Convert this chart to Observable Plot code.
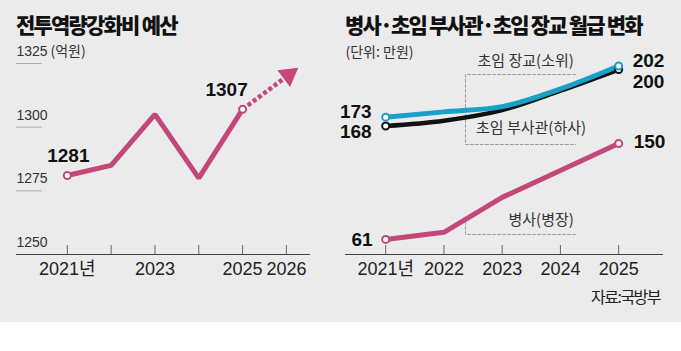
<!DOCTYPE html>
<html><head><meta charset="utf-8">
<script src="https://cdn.jsdelivr.net/npm/d3@7"></script>
<script src="https://cdn.jsdelivr.net/npm/@observablehq/plot@0.6"></script>
<style>
body{margin:0;background:#fff;}
#wrap{position:relative;width:681px;height:351px;background:#fff;overflow:hidden;}
#bg{position:absolute;left:0;top:0;width:681px;height:322px;background:#ebebeb;}
.title{position:absolute;top:9px;font-family:"Noto Sans CJK KR",sans-serif;font-weight:900;font-size:21px;letter-spacing:-1.8px;color:#111;white-space:nowrap;line-height:30px;}
.chart{position:absolute;top:40px;}
#src{position:absolute;left:591px;top:286px;font-family:"Noto Sans CJK KR",sans-serif;font-size:16px;letter-spacing:-1.5px;color:#222;line-height:20px;}
.chart svg text.num{letter-spacing:-1px;}
</style></head>
<body>
<div id="wrap">
<div id="bg"></div>
<div class="title" id="t1" style="left:16px">전투역량강화비 예산</div>
<div class="title" id="t2" style="left:345px">병사·초임 부사관·초임 장교 월급 변화</div>
<div class="chart" id="c1" style="left:0px"></div>
<div class="chart" id="c2" style="left:340px"></div>
<div id="src">자료:국방부</div>
</div>
<script>
// ---------- Left chart data ----------
const budgetYears = [2021, 2022, 2023, 2024, 2025];
const budgetValues = [1281, 1285, 1305, 1280, 1307];
const budgetAxisYears = [2021, 2022, 2023, 2024, 2025, 2026];
const budgetAxisLabels = ["2021년", "", "2023", "", "2025", "2026"];
const budgetYTicks = [1325, 1300, 1275, 1250];
const budgetUnit = "(억원)";
const arrowStart = [2025, 1307];
const arrowEnd = [2025.94, 1319.1];
const arrowHead = [2026.05, 1320.5];

// ---------- Right chart data ----------
const payYears = [2021, 2022, 2023, 2024, 2025];
const soldierPay = [61, 67.6, 100, 125, 150];
const sergeantPay = [168, 171, 177, 188, 200];
const lieutenantPay = [173, 176, 179, 189, 202];
const payUnit = "(단위: 만원)";
const payAxisLabels = ["2021년", "2022", "2023", "2024", "2025"];
const seriesNames = ["초임 장교(소위)", "초임 부사관(하사)", "병사(병장)"];
// broken (piecewise) value axis of the right chart: value breakpoints and their heights in px
const payBreaks = [47, 150, 168, 202];
const payBreakHeights = [0, 111, 128.5, 188.5];

const pink = "#c4477a", blue = "#18a0c8", black = "#111";
const numFont = '"Liberation Sans","Noto Sans CJK KR",sans-serif';
const krFont = '"Noto Sans CJK KR",sans-serif';

// ---------- Left chart ----------
const budget = budgetYears.map((year, i) => ({year, value: budgetValues[i]}));
const yL = {domain: [1250, 1325], range: [214, 23]};
const kL = (yL.range[0] - yL.range[1]) / (yL.domain[1] - yL.domain[0]);
const tickTopL = yL.domain[0] + 9 / kL;
const xLdom = [2019.84, 2026.55];

const left = Plot.plot({
  width: 340, height: 250,
  marginTop: 23, marginBottom: 36, marginLeft: 16, marginRight: 30,
  x: {domain: xLdom, axis: null},
  y: {...yL, axis: null},
  style: {background: "transparent", overflow: "visible", fontFamily: numFont},
  marks: [
    Plot.ruleY(budgetYTicks.filter(d => d !== 1250), {y: d => d, x1: xLdom[0], x2: 2020.43, stroke: "#9a9a9a", strokeWidth: 0.8}),
    Plot.text(budgetYTicks, {x: xLdom[0], y: d => d, text: d => String(d), textAnchor: "start", dy: -12, fontSize: 14, fill: "#333", className: "num"}),
    Plot.text([budgetUnit], {x: xLdom[0], y: 1325, text: d => d, textAnchor: "start", dx: 34, dy: -12, fontSize: 14, fill: "#333", fontFamily: krFont}),
    Plot.ruleY([1250], {stroke: "#444", strokeWidth: 1.2}),
    Plot.ruleX(budgetAxisYears, {x: d => d, y1: 1250, y2: tickTopL, stroke: "#666", strokeWidth: 1}),
    Plot.text(budgetAxisYears, {x: d => d, y: 1250, text: (d, i) => budgetAxisLabels[i], dy: 15, fontSize: 18, fill: "#222", className: "num"}),
    Plot.link([0], {x1: arrowStart[0], y1: arrowStart[1], x2: arrowEnd[0], y2: arrowEnd[1], stroke: pink, strokeWidth: 4.5, strokeDasharray: "4,2.5"}),
    Plot.dot([0], {x: arrowHead[0], y: arrowHead[1], symbol: "triangle", r: 7.8, fill: pink, stroke: "none", rotate: 53}),
    Plot.line(budget, {x: "year", y: "value", stroke: pink, strokeWidth: 5, strokeLinejoin: "miter"}),
    Plot.dot([budget[0], budget[4]], {x: "year", y: "value", r: 3.5, fill: "white", stroke: pink, strokeWidth: 2}),
    Plot.text([budget[0]], {x: "year", y: "value", text: d => String(d.value), dx: 1, dy: -20, fontSize: 19, fontWeight: "bold", fill: "#111", className: "num"}),
    Plot.text([budget[4]], {x: "year", y: "value", text: d => String(d.value), dx: -16, dy: -19, fontSize: 19, fontWeight: "bold", fill: "#111", className: "num"})
  ]
});
document.getElementById("c1").appendChild(left);

// ---------- Right chart ----------
const mk = (vals, name) => payYears.map((year, i) => ({year, value: vals[i], name}));
const soldier = mk(soldierPay, seriesNames[2]);
const sergeant = mk(sergeantPay, seriesNames[1]);
const lieutenant = mk(lieutenantPay, seriesNames[0]);
const ends = arr => [arr[0], arr[arr.length - 1]];
const pw = d3.scaleLinear().domain(payBreaks).range(payBreakHeights);
const tickTopR = pw.invert(9);

const bracketTop = [[2024.26, 197.2], [2022.37, 197.2], [2022.37, 149.1], [2024.26, 149.1]];
const bracketBottom = [[2022.37, 77.6], [2022.37, 65.6], [2024.26, 65.6]];
const annot = [
  {name: seriesNames[0], x: 2024.23, y: 204.5, anchor: "end"},
  {name: seriesNames[1], x: 2022.55, y: 165.4, anchor: "start"},
  {name: seriesNames[2], x: 2024.23, y: 78.5, anchor: "end"}
];
const valueLabels = [
  {d: lieutenant[0], dx: -14, dy: -5.5, anchor: "end"},
  {d: sergeant[0], dx: -14, dy: 5.5, anchor: "end"},
  {d: soldier[0], dx: -13, dy: 0, anchor: "end"},
  {d: lieutenant[4], dx: 14, dy: -5.5, anchor: "start"},
  {d: sergeant[4], dx: 14, dy: 12.5, anchor: "start"},
  {d: soldier[4], dx: 15, dy: -2, anchor: "start"}
];

const right = Plot.plot({
  width: 341, height: 250,
  marginTop: 25.5, marginBottom: 36, marginLeft: 5, marginRight: 18,
  x: {domain: [2020.31, 2025.77], axis: null},
  y: {transform: pw, domain: [0, 188.5], range: [214, 25.5], axis: null},
  style: {background: "transparent", overflow: "visible", fontFamily: numFont},
  marks: [
    Plot.text([payUnit], {x: 2020.31, y: 202, text: d => d, dy: -13, fontSize: 14, fill: "#333", fontFamily: krFont, textAnchor: "start"}),
    Plot.line(bracketTop, {x: d => d[0], y: d => d[1], stroke: "#9a9a9a", strokeWidth: 1, strokeDasharray: "3,2"}),
    Plot.line(bracketBottom, {x: d => d[0], y: d => d[1], stroke: "#9a9a9a", strokeWidth: 1, strokeDasharray: "3,2"}),
    ...annot.map(a => Plot.text([a], {x: "x", y: "y", text: "name", textAnchor: a.anchor, fontSize: 15, fill: "#333", fontFamily: krFont})),
    Plot.ruleY([47], {stroke: "#444", strokeWidth: 1.2}),
    Plot.ruleX(payYears, {x: d => d, y1: 47, y2: tickTopR, stroke: "#666", strokeWidth: 1}),
    Plot.text(payYears, {x: d => d, y: 47, text: (d, i) => payAxisLabels[i], dy: 15, fontSize: 18, fill: "#222", className: "num"}),
    Plot.line(soldier, {x: "year", y: "value", stroke: pink, strokeWidth: 5}),
    Plot.line(sergeant, {x: "year", y: "value", stroke: black, strokeWidth: 4.5, curve: "monotone-x"}),
    Plot.line(lieutenant, {x: "year", y: "value", stroke: blue, strokeWidth: 5, curve: "monotone-x"}),
    Plot.dot(ends(soldier), {x: "year", y: "value", r: 3.5, fill: "white", stroke: pink, strokeWidth: 2}),
    Plot.dot(ends(sergeant), {x: "year", y: "value", r: 3.5, fill: "white", stroke: black, strokeWidth: 2}),
    Plot.dot(ends(lieutenant), {x: "year", y: "value", r: 3.5, fill: "white", stroke: blue, strokeWidth: 2}),
    ...valueLabels.map(v => Plot.text([v.d], {x: "year", y: "value", text: d => String(d.value), textAnchor: v.anchor, dx: v.dx, dy: v.dy, fontSize: 19, fontWeight: "bold", fill: "#111", className: "num"}))
  ]
});
document.getElementById("c2").appendChild(right);
</script>
</body></html>
